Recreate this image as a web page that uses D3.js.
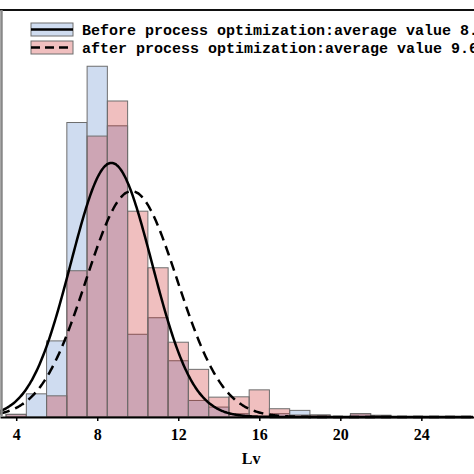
<!DOCTYPE html>
<meta charset="utf-8">
<script src="https://d3js.org/d3.v7.min.js"></script>
<style>
  body { margin: 0; background: #fff; }
  svg { display: block; }
</style>
<div id="my_dataviz"></div>
<script>

  // histogram bins (centre of each 1-wide bin)
  const binCenters = [4, 5, 6, 7, 8, 9, 10, 11, 12, 13, 14, 15, 16, 17, 18, 19, 20, 21, 22];
  // counts before process optimization
  const beforeCounts = [0.8, 7, 23, 89, 106, 88, 25, 30, 17, 5, 3, 1, 0, 1, 2, 0.6, 0, 1, 0.5];
  // counts after process optimization
  const afterCounts = [0.8, 0, 6.4, 44.2, 84.9, 95.5, 62.2, 45.1, 22.6, 14.4, 6, 6.1, 8.2, 2.5, 0.6, 0.6, 0, 1, 0.5];

  // normal fit parameters (mean, sd, total)
  const beforeFit = {mean: 8.7, sd: 2.0, n: 385};
  const afterFit = {mean: 9.7, sd: 2.25, n: 385};

  const xTicks = [4, 8, 12, 16, 20, 24];
  const legendLabels = [
    "Before process optimization:average value 8.7",
    "after process optimization:average value 9.67"
  ];
  const xLabel = "Lv";

  const width = 474, height = 474;
  const plot = {left: 0, right: 474, top: 10, bottom: 417};

  const svg = d3.select("#my_dataviz")
    .append("svg")
      .attr("width", width)
      .attr("height", height);

  const x = d3.scaleLinear()
    .domain([3.2, 26.6])
    .range([plot.left, plot.right]);

  const y = d3.scaleLinear()
    .domain([0, 123])
    .range([plot.bottom, plot.top]);

  const blueFill = "#cfdcf0";
  const pinkFill = "rgba(200,17,17,0.27)";
  const barStroke = "#6e6e6e";

  // before bars (drawn first)
  svg.append("g")
    .selectAll("rect")
    .data(binCenters.map((c, i) => ({c, v: beforeCounts[i]})).filter(d => d.v > 0))
    .join("rect")
      .attr("x", d => x(d.c - 0.5))
      .attr("width", d => x(d.c + 0.5) - x(d.c - 0.5))
      .attr("y", d => y(d.v))
      .attr("height", d => y(0) - y(d.v))
      .attr("fill", blueFill)
      .attr("stroke", barStroke)
      .attr("stroke-width", 1);

  // after bars, semi transparent on top
  svg.append("g")
    .selectAll("rect")
    .data(binCenters.map((c, i) => ({c, v: afterCounts[i]})).filter(d => d.v > 0))
    .join("rect")
      .attr("x", d => x(d.c - 0.5))
      .attr("width", d => x(d.c + 0.5) - x(d.c - 0.5))
      .attr("y", d => y(d.v))
      .attr("height", d => y(0) - y(d.v))
      .attr("fill", pinkFill)
      .attr("stroke", barStroke)
      .attr("stroke-width", 1);

  // fitted normal curves
  function normalCurve(fit) {
    const xs = d3.range(x.domain()[0], x.domain()[1], 0.05);
    return xs.map(v => [v, fit.n / (fit.sd * Math.sqrt(2 * Math.PI)) *
      Math.exp(-((v - fit.mean) ** 2) / (2 * fit.sd * fit.sd))]);
  }
  const line = d3.line().x(d => x(d[0])).y(d => y(d[1])).curve(d3.curveBasis);

  svg.append("path")
    .datum(normalCurve(beforeFit))
    .attr("d", line)
    .attr("fill", "none")
    .attr("stroke", "#000")
    .attr("stroke-width", 2.5);

  svg.append("path")
    .datum(normalCurve(afterFit))
    .attr("d", line)
    .attr("fill", "none")
    .attr("stroke", "#000")
    .attr("stroke-width", 2.5)
    .attr("stroke-dasharray", "10,6");

  // x axis
  const xAxis = d3.axisBottom(x).tickValues(xTicks).tickSize(4).tickSizeOuter(0);
  const gx = svg.append("g")
    .attr("transform", `translate(0,${plot.bottom})`)
    .call(xAxis);
  gx.select(".domain").attr("stroke", "#000").attr("stroke-width", 2);
  gx.selectAll(".tick line").attr("stroke", "#000").attr("stroke-width", 1.5);
  gx.selectAll(".tick text")
    .attr("dy", "0.71em")
    .attr("y", 12)
    .style("font-family", "'Liberation Serif', 'Times New Roman', serif")
    .style("font-weight", "bold")
    .style("font-size", "16px")
    .attr("fill", "#000");

  svg.append("text")
    .attr("x", x(15.6))
    .attr("y", 464)
    .attr("text-anchor", "middle")
    .style("font-family", "'Liberation Serif', 'Times New Roman', serif")
    .style("font-weight", "bold")
    .style("font-size", "16px")
    .text(xLabel);

  // frame: top spine and left spine
  svg.append("line")
    .attr("x1", plot.left).attr("x2", plot.right)
    .attr("y1", plot.top).attr("y2", plot.top)
    .attr("stroke", "#111").attr("stroke-width", 2);
  svg.append("line")
    .attr("x1", 1.5).attr("x2", 1.5)
    .attr("y1", plot.top).attr("y2", plot.bottom)
    .attr("stroke", "#888").attr("stroke-width", 2.5);

  // legend
  const legend = svg.append("g").attr("transform", "translate(31,23)");
  const legendItems = [
    {label: legendLabels[0], fill: blueFill, dash: null},
    {label: legendLabels[1], fill: pinkFill, dash: "9,5"}
  ];
  legendItems.forEach((d, i) => {
    const g = legend.append("g").attr("transform", `translate(0,${i * 18})`);
    g.append("rect")
      .attr("width", 42).attr("height", 13)
      .attr("fill", d.fill)
      .attr("stroke", barStroke)
      .attr("stroke-width", 1);
    g.append("line")
      .attr("x1", 0).attr("x2", 42)
      .attr("y1", 6.5).attr("y2", 6.5)
      .attr("stroke", "#000")
      .attr("stroke-width", 2.5)
      .attr("stroke-dasharray", d.dash);
    g.append("text")
      .attr("x", 51)
      .attr("y", 12)
      .style("font-family", "'Liberation Mono', 'Courier New', monospace")
      .style("font-weight", "bold")
      .style("font-size", "15px")
      .text(d.label);
  });

</script>
